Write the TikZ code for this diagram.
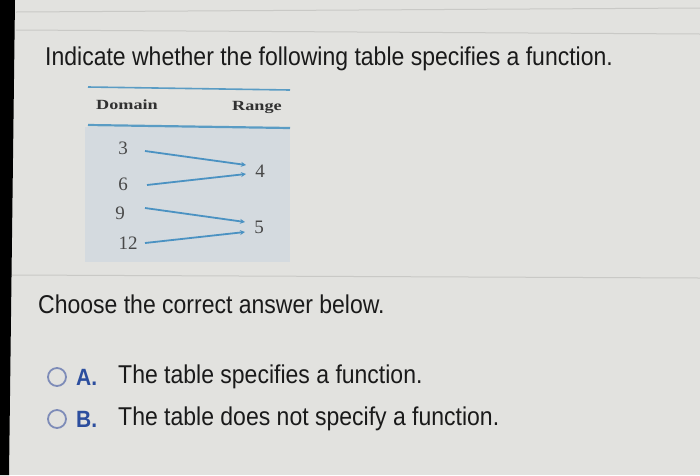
\documentclass[tikz,border=0pt]{standalone}
\usepackage{fontspec}
\setmainfont{Liberation Sans}
\newfontfamily\tabfont{Liberation Serif}
\usetikzlibrary{arrows.meta}
\definecolor{bgc}{HTML}{E2E2DF}
\definecolor{tabbg}{HTML}{D4DADF}
\definecolor{rulec}{HTML}{5A9CC4}
\definecolor{arrc}{HTML}{4B92C2}
\definecolor{txt}{HTML}{1A1A1A}
\definecolor{optblue}{HTML}{2C4E9E}
\definecolor{circc}{HTML}{7E8CB8}
\definecolor{sepc}{HTML}{C9C9C6}
\newcommand{\tallt}[1]{\scalebox{1}[1.12]{#1}}
\tikzset{
  maintext/.style={anchor=west, inner sep=0pt, text=txt, font=\fontsize{23}{26}\selectfont},
  hdr/.style={inner sep=0pt, text=txt!90, font=\tabfont\bfseries\fontsize{14}{16}\selectfont, xscale=1.3},
  num/.style={inner sep=0pt, text=txt!80, font=\tabfont\fontsize{19}{21}\selectfont},
  maparrow/.style={draw=arrc, line width=1.8pt, -{Stealth[length=5pt,width=5pt]}},
  tabrule/.style={draw=rulec, line width=1.6pt},
  radio/.style={circle, draw=circc, line width=1.8pt, minimum size=18pt, inner sep=0pt},
  optlabel/.style={anchor=west, inner sep=0pt, text=optblue, font=\bfseries\fontsize{21}{23}\selectfont}
}
\begin{document}
\begin{tikzpicture}[x=1pt,y=-1pt]
\useasboundingbox (0,0) rectangle (700,475);
% background
\fill[bgc] (0,0) rectangle (700,475);
\fill[black] (0,0) -- (15,0) -- (9,475) -- (0,475) -- cycle;
\draw[sepc, line width=1pt] (16,12) -- (700,8);
\draw[sepc, line width=1pt] (16,30) -- (700,34);
\draw[sepc, line width=1pt] (12,275) -- (700,278);
% title
\node[maintext] (title) at (45,59) {\tallt{Indicate whether the following table specifies a function.}};
% table
\fill[tabbg] (85,127) rectangle (290,262);
\draw[tabrule] (88,87) -- (290,90);
\draw[tabrule, line width=2.2pt] (88,125) -- (290,128);
\node[hdr] (dom) at (127,105) {Domain};
\node[hdr] (rng) at (257,107) {Range};
\node[num] (d3) at (123,148) {3};
\node[num] (d6) at (123,184) {6};
\node[num] (d9) at (120,213) {9};
\node[num] (d12) at (128,243) {12};
\node[num] (r4) at (260,171) {4};
\node[num] (r5) at (259,227) {5};
\coordinate (s3) at (145,151);
\coordinate (s6) at (147,185);
\coordinate (s9) at (145,208);
\coordinate (s12) at (145,243);
\coordinate (a4) at (246,165);
\coordinate (b4) at (246,174);
\coordinate (a5) at (245,222);
\coordinate (b5) at (245,232);
\draw[maparrow] (s3) -- (a4);
\draw[maparrow] (s6) -- (b4);
\draw[maparrow] (s9) -- (a5);
\draw[maparrow] (s12) -- (b5);
% question
\node[maintext] (q) at (38,304) {\tallt{Choose the correct answer below.}};
% options
\node[radio] (ca) at (57,377) {};
\node[optlabel] (la) at (76,377) {\tallt{A.}};
\node[maintext] (ta) at (118,377) {\tallt{The table specifies a function.}};
\node[radio] (cb) at (57,419) {};
\node[optlabel] (lb) at (76,419) {\tallt{B.}};
\node[maintext] (tb) at (118,419) {\tallt{The table does not specify a function.}};
\end{tikzpicture}
\end{document}
